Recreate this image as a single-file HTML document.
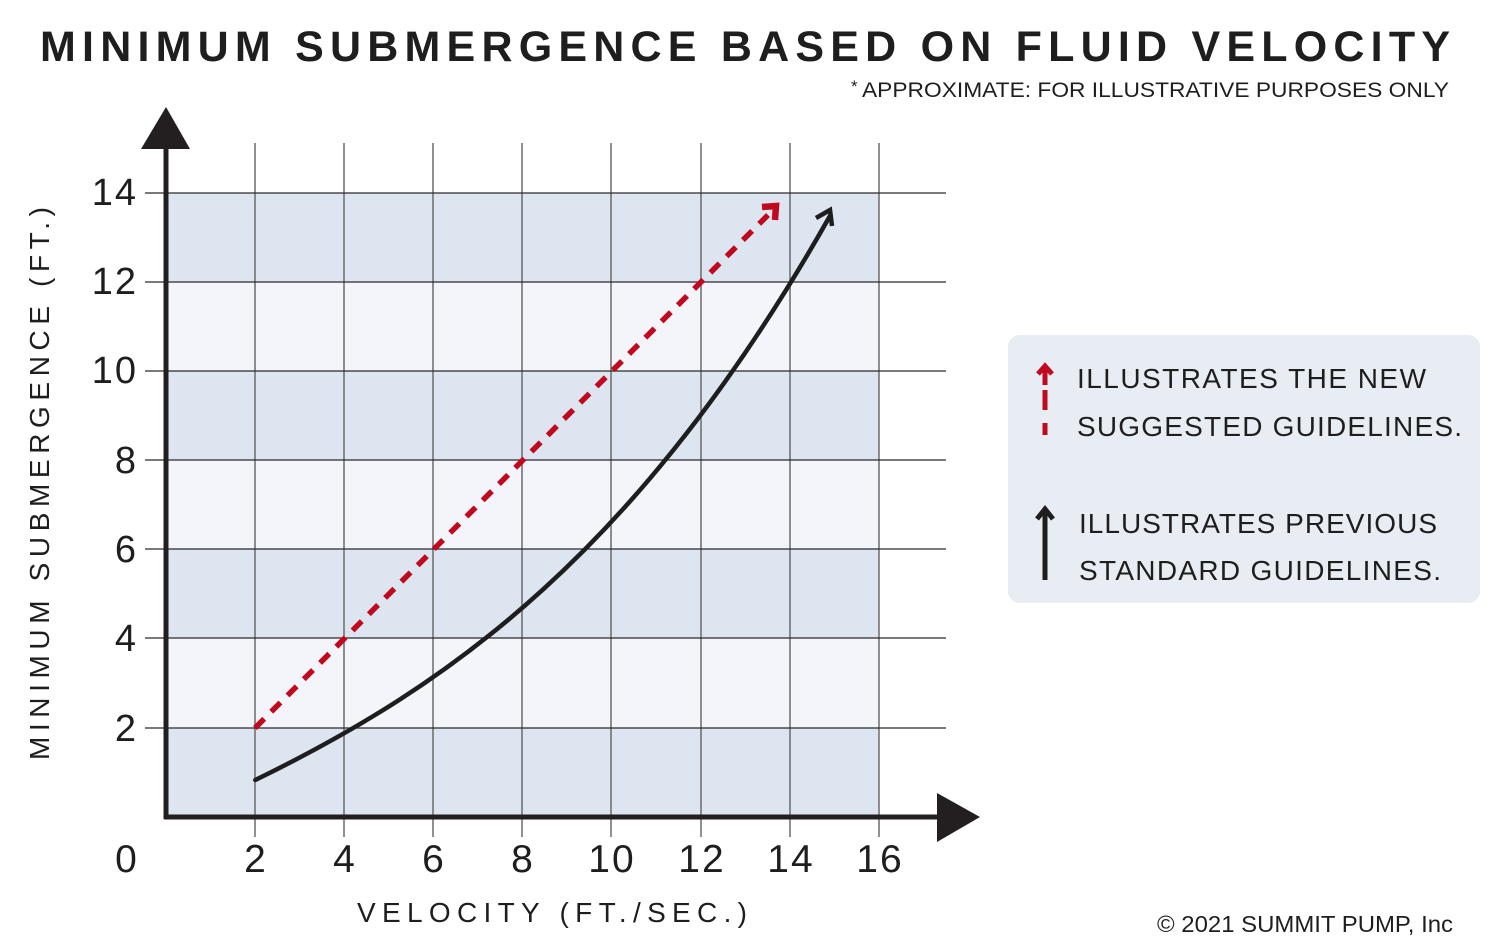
<!DOCTYPE html>
<html>
<head>
<meta charset="utf-8">
<style>
html,body{margin:0;padding:0;background:#fff;}
svg{display:block;}
text{font-family:"Liberation Sans",Arial,sans-serif;fill:#1e1e1e;}
</style>
</head>
<body>
<svg width="1489" height="946" viewBox="0 0 1489 946" xmlns="http://www.w3.org/2000/svg">
  <rect width="1489" height="946" fill="#fff"/>

  <!-- Title -->
  <text x="40" y="61" font-size="43" font-weight="bold" textLength="1410" lengthAdjust="spacing">MINIMUM SUBMERGENCE BASED ON FLUID VELOCITY</text>
  <text x="851" y="92" font-size="17">*</text>
  <text x="862" y="97" font-size="21" textLength="587" lengthAdjust="spacingAndGlyphs">APPROXIMATE: FOR ILLUSTRATIVE PURPOSES ONLY</text>

  <!-- Bands -->
  <rect x="166" y="193" width="713" height="89" fill="#dce5f0"/>
  <rect x="166" y="282" width="713" height="89" fill="#f3f5fa"/>
  <rect x="166" y="371" width="713" height="89" fill="#dce5f0"/>
  <rect x="166" y="460" width="713" height="89" fill="#f3f5fa"/>
  <rect x="166" y="549" width="713" height="89" fill="#dce5f0"/>
  <rect x="166" y="638" width="713" height="90" fill="#f3f5fa"/>
  <rect x="166" y="728" width="713" height="89" fill="#dce5f0"/>

  <!-- Vertical gridlines -->
  <g stroke="#6b6b6b" stroke-width="1.5">
    <line x1="255" y1="143" x2="255" y2="837"/>
    <line x1="344" y1="143" x2="344" y2="837"/>
    <line x1="433" y1="143" x2="433" y2="837"/>
    <line x1="522" y1="143" x2="522" y2="837"/>
    <line x1="611" y1="143" x2="611" y2="837"/>
    <line x1="701" y1="143" x2="701" y2="837"/>
    <line x1="790" y1="143" x2="790" y2="837"/>
    <line x1="879" y1="143" x2="879" y2="837"/>
  </g>
  <!-- Horizontal gridlines -->
  <g stroke="#2a2a2a" stroke-width="1.2">
    <line x1="145" y1="193" x2="946" y2="193"/>
    <line x1="145" y1="282" x2="946" y2="282"/>
    <line x1="145" y1="371" x2="946" y2="371"/>
    <line x1="145" y1="460" x2="946" y2="460"/>
    <line x1="145" y1="549" x2="946" y2="549"/>
    <line x1="145" y1="638" x2="946" y2="638"/>
    <line x1="145" y1="728" x2="946" y2="728"/>
  </g>

  <!-- Axes -->
  <line x1="166" y1="145" x2="166" y2="819" stroke="#231f20" stroke-width="5"/>
  <line x1="164" y1="817" x2="942" y2="817" stroke="#231f20" stroke-width="5"/>
  <polygon points="141,149 190,149 166,107" fill="#231f20"/>
  <polygon points="937,793 937,842 980,817" fill="#231f20"/>

  <!-- Y tick labels -->
  <g font-size="38" text-anchor="end" letter-spacing="2" style="fill:#262626">
    <text x="138" y="205">14</text>
    <text x="138" y="294">12</text>
    <text x="138" y="383">10</text>
    <text x="138" y="473">8</text>
    <text x="138" y="562">6</text>
    <text x="138" y="651">4</text>
    <text x="138" y="741">2</text>
  </g>
  <!-- X tick labels -->
  <g font-size="39" text-anchor="middle" letter-spacing="2" style="fill:#262626">
    <text x="127" y="872">0</text>
    <text x="256" y="872">2</text>
    <text x="345" y="872">4</text>
    <text x="434" y="872">6</text>
    <text x="523" y="872">8</text>
    <text x="612" y="872">10</text>
    <text x="702" y="872">12</text>
    <text x="791" y="872">14</text>
    <text x="880" y="872">16</text>
  </g>

  <!-- Axis titles -->
  <text x="357" y="922" font-size="28" textLength="390" lengthAdjust="spacing">VELOCITY (FT./SEC.)</text>
  <text transform="translate(49,760) rotate(-90)" x="0" y="0" font-size="28" textLength="553" lengthAdjust="spacing">MINIMUM SUBMERGENCE (FT.)</text>

  <!-- Red dashed line -->
  <line x1="255" y1="728" x2="768" y2="215" stroke="#c0081e" stroke-width="5.5" stroke-dasharray="13 10"/>
  <polyline points="762,207 776,206 775,220" fill="none" stroke="#c0081e" stroke-width="6.5" stroke-linejoin="miter"/>

  <!-- Black curve -->
  <path d="M255.3,780 C447.3,686.5 639.3,553.4 830.5,215" fill="none" stroke="#1e1e1e" stroke-width="4.5" stroke-linecap="round"/>
  <polyline points="816,218 830,210 832,226" fill="none" stroke="#1e1e1e" stroke-width="4.5" stroke-linejoin="miter"/>

  <!-- Legend -->
  <rect x="1008" y="335" width="472" height="268" rx="12" fill="#e8ecf3"/>
  <!-- red icon -->
  <polyline points="1038,374 1045,366 1052,374" fill="none" stroke="#c0081e" stroke-width="5"/>
  <line x1="1045" y1="367" x2="1045" y2="385" stroke="#c0081e" stroke-width="5"/>
  <line x1="1045" y1="390" x2="1045" y2="410" stroke="#c0081e" stroke-width="5"/>
  <line x1="1045" y1="423" x2="1045" y2="435" stroke="#c0081e" stroke-width="5"/>
  <!-- black icon -->
  <polyline points="1037,519 1045,509 1053,519" fill="none" stroke="#1e1e1e" stroke-width="5"/>
  <line x1="1045" y1="510" x2="1045" y2="580" stroke="#1e1e1e" stroke-width="5"/>

  <g font-size="28">
    <text x="1077" y="388" textLength="349" lengthAdjust="spacing">ILLUSTRATES THE NEW</text>
    <text x="1077" y="436" textLength="385" lengthAdjust="spacing">SUGGESTED GUIDELINES.</text>
    <text x="1079" y="533" textLength="358" lengthAdjust="spacing">ILLUSTRATES PREVIOUS</text>
    <text x="1079" y="580" textLength="362" lengthAdjust="spacing">STANDARD GUIDELINES.</text>
  </g>

  <!-- Copyright -->
  <text x="1157" y="932" font-size="23" textLength="296" lengthAdjust="spacingAndGlyphs">© 2021 SUMMIT PUMP, Inc</text>
</svg>
</body>
</html>
